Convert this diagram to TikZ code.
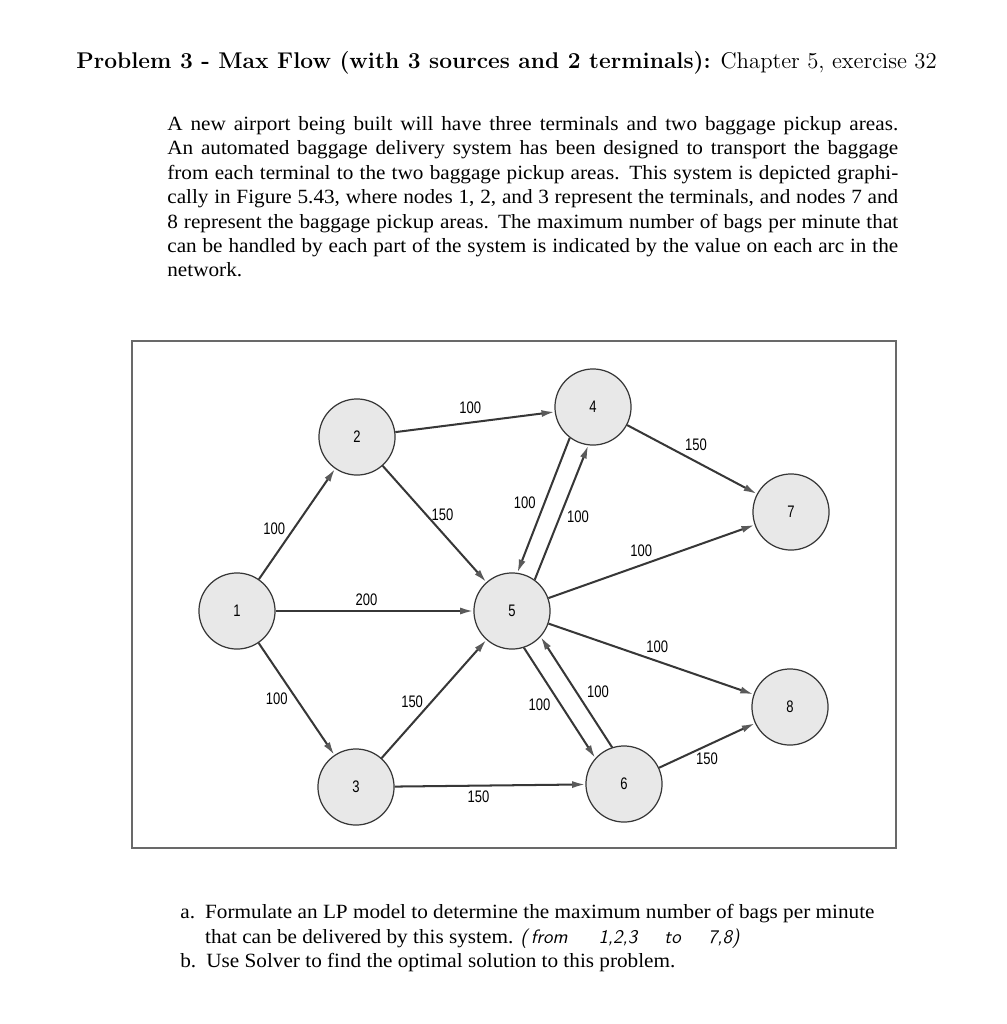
\documentclass[tikz,border=0pt]{standalone}
\usepackage{fontspec}
\usepackage{tikz}
\usetikzlibrary{arrows.meta, positioning}
\newfontfamily\figfont[FakeStretch=0.78]{Liberation Sans}
\newfontfamily\bookfont[FakeStretch=1.05]{Liberation Serif}
\definecolor{edgegray}{RGB}{55,55,55}
\definecolor{tipgray}{RGB}{90,90,90}
\definecolor{hubfill}{RGB}{232,232,232}
\definecolor{framegray}{RGB}{105,105,105}
\tikzset{
  hub/.style   = {circle, draw=edgegray, fill=hubfill, line width=0.7pt,
                  minimum size=43.3pt, inner sep=0pt,
                  font=\figfont\fontsize{9.5}{10}\selectfont},
  pipe/.style  = {-{Latex[length=7.5pt, width=4pt, color=tipgray]},
                  line width=1.15pt, draw=edgegray},
  capa/.style  = {font=\figfont\fontsize{9.5}{10}\selectfont, inner sep=2.5pt},
  bodytext/.style = {font=\bookfont\fontsize{11.5}{13.9}\selectfont, inner sep=0pt},
}

\begin{document}
\begin{tikzpicture}[x=0.02cm, y=-0.02cm]
  \useasboundingbox (0,0) rectangle (1007,1024);

  % heading and problem statement
  \node[anchor=base west, inner sep=0pt, font=\fontsize{12.95}{15}\selectfont] (title) at (76,69)
    {\textbf{Problem 3 - Max Flow (with 3 sources and 2 terminals):} Chapter 5, exercise 32};
  \node[bodytext, text width=416pt, align=justify, anchor=north west] (story) at (167,116)
    {A new airport being built will have three terminals and two baggage pickup areas.\linebreak
     An automated baggage delivery system has been designed to transport the baggage\linebreak
     from each terminal to the two baggage pickup areas. This system is depicted graphi-\linebreak
     cally in Figure 5.43, where nodes 1, 2, and 3 represent the terminals, and nodes 7 and\linebreak
     8 represent the baggage pickup areas. The maximum number of bags per minute that\linebreak
     can be handled by each part of the system is indicated by the value on each arc in the\linebreak
     network.};

  % figure frame
  \draw[framegray, line width=1pt] (132,341) rectangle (896,848);

  % network
  \node[hub] (n1) at (237,611) {1};
  \node[hub] (n2) at (357,437) {2};
  \node[hub] (n3) at (356,787) {3};
  \node[hub] (n4) at (593,407) {4};
  \node[hub] (n5) at (512,611) {5};
  \node[hub] (n6) at (624,784) {6};
  \node[hub] (n7) at (791,512) {7};
  \node[hub] (n8) at (790,707) {8};

  \draw[pipe] (n1) -- (n2) node[capa, pos=0.46, left=2pt] {100};
  \draw[pipe] (n1) -- (n5) node[capa, pos=0.46, above] {200};
  \draw[pipe] (n1) -- (n3) node[capa, pos=0.50, left=2pt] {100};
  \draw[pipe] (n2) -- (n4) node[capa, pos=0.47, above=2pt] {100};
  \draw[pipe] (n2) -- (n5) node[capa, pos=0.42, right=0pt] {150};
  \draw[pipe] (n3) -- (n5) node[capa, pos=0.48, left=2pt] {150};
  \draw[pipe] (n3) -- (n6) node[capa, pos=0.44, below] {150};
  \draw[pipe] (n4.233) -- (n5.82) node[capa, pos=0.48, left=2pt] {100};
  \draw[pipe] (n5.54) -- (n4.263) node[capa, pos=0.47, right=1pt] {100};
  \draw[pipe] (n5.288) -- (n6.138) node[capa, pos=0.52, left=3pt] {100};
  \draw[pipe] (n6.108) -- (n5.318) node[capa, pos=0.50, right=3pt] {100};
  \draw[pipe] (n4) -- (n7) node[capa, pos=0.53, above=3pt] {150};
  \draw[pipe] (n5) -- (n7) node[capa, pos=0.45, above=2pt] {100};
  \draw[pipe] (n5) -- (n8) node[capa, pos=0.53, above=2pt] {100};
  \draw[pipe] (n6) -- (n8) node[capa, pos=0.50, below=1pt] {150};

  % questions
  \node[bodytext, align=left, anchor=north west] (tasks) at (180,904)
    {a.\enspace Formulate an LP model to determine the maximum number of bags per minute\\
     \phantom{a.\enspace}that can be delivered by this system.
     {\sffamily\itshape\fontsize{11}{12}\selectfont(\,from\hspace{1.6em}1,2,3\hspace{1.4em}to\hspace{1.4em}7,8)}\\
     b.\enspace Use Solver to find the optimal solution to this problem.};
\end{tikzpicture}
\end{document}
